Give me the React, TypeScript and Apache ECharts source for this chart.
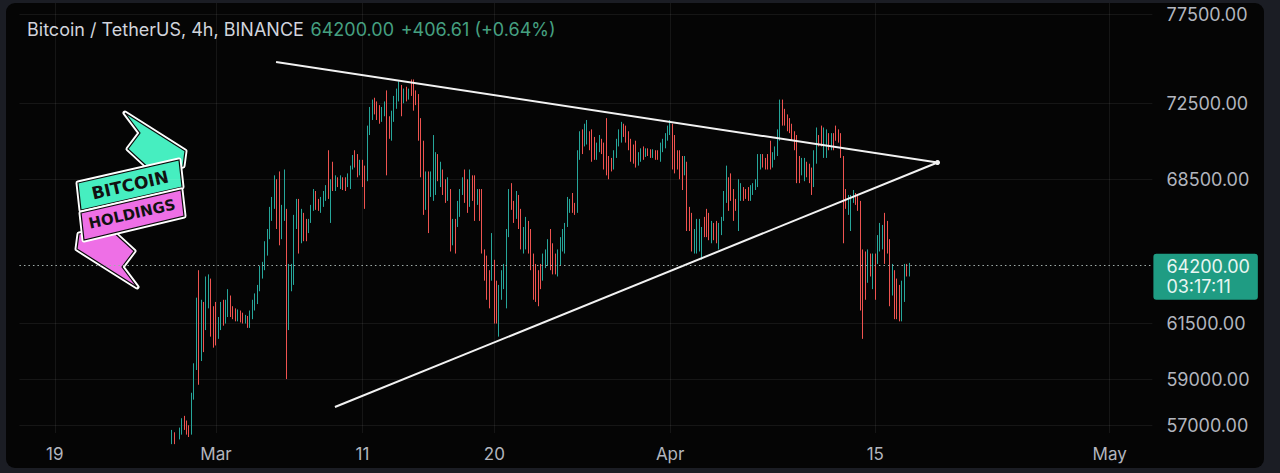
import React, { useEffect, useRef } from "react";
import * as echarts from "echarts";

// ---- header / instrument info ----
const SYMBOL_TITLE = "Bitcoin / TetherUS, 4h, BINANCE";
const LAST_PRICE = 64200;
const PRICE_CHANGE = 406.61;
const PRICE_CHANGE_PCT = 0.64;
const BAR_COUNTDOWN = "03:17:11";

// ---- axes ----
const PRICE_TICKS = [57000, 59000, 61500, 68500, 72500, 77500];
const PRICE_MIN = 56670;
const PRICE_MAX = 78140;
const DATE_TICKS = ["2024-02-19", "2024-03-01", "2024-03-11", "2024-03-20", "2024-04-01", "2024-04-15", "2024-05-01"];
const MONTHS = ["Jan", "Feb", "Mar", "Apr", "May", "Jun", "Jul", "Aug", "Sep", "Oct", "Nov", "Dec"];
const AXIS_START = Date.UTC(2024, 1, 16, 16); // first 4h slot on the time scale
const SLOT_COUNT = 464;
const BAR_MS = 4 * 3600 * 1000;
const FIRST_BAR = Date.UTC(2024, 1, 27, 0);

// ---- 4h candles, [open, close, low, high] ----
const CANDLES: number[][] = [
  [56300, 56650, 56200, 56800], [56650, 56400, 56200, 56700], [56400, 56550, 56200, 56650], [56550, 56700, 56400, 56900],
  [56700, 57150, 56600, 57300], [57150, 56950, 56800, 57400], [56950, 56750, 56600, 57200], [56750, 56700, 56500, 57000],
  [56700, 58200, 56600, 58400], [58200, 59500, 58100, 59700], [59500, 62400, 59400, 62700], [62400, 60300, 58750, 64000],
  [60300, 61900, 59800, 62600], [61900, 61200, 60200, 62500], [61200, 63300, 61200, 63700], [63300, 63500, 62200, 63800],
  [63500, 61600, 60900, 63600], [61600, 60700, 60400, 62300], [61300, 60800, 60500, 62500], [60800, 61500, 60800, 61800],
  [61500, 61900, 61200, 62500], [61900, 61600, 61400, 62600], [61600, 62400, 61500, 62600], [61900, 62700, 61800, 63100],
  [62700, 62000, 61800, 62800], [62000, 61900, 61700, 62300], [61950, 61750, 61600, 62200], [61750, 61900, 61600, 62150],
  [61900, 61700, 61550, 62100], [61700, 61550, 61500, 62000], [61550, 61700, 61500, 61900], [61700, 61400, 61300, 61850],
  [61400, 61900, 61300, 62100], [61900, 62400, 61700, 62600], [62400, 62800, 62100, 62900], [62800, 63100, 62400, 63300],
  [63100, 64000, 63000, 64200], [64000, 64300, 63600, 64400], [64300, 65200, 64000, 65400], [65200, 65900, 64700, 66000],
  [65900, 66900, 65500, 67100], [66900, 67400, 66400, 67600], [67400, 68500, 67000, 68700], [68500, 67000, 66000, 68500],
  [68200, 65800, 65200, 68900], [65800, 66700, 65500, 67200], [66700, 68600, 66400, 69000], [66900, 62700, 59000, 67000],
  [62700, 63500, 61200, 64300], [63500, 64200, 63000, 64300], [63500, 66400, 63300, 66700], [66400, 66900, 66000, 67500],
  [67300, 65500, 64800, 67500], [65500, 66500, 65300, 67000], [66600, 65700, 65400, 66800], [66200, 65600, 65400, 66500],
  [65800, 66300, 65800, 66500], [66300, 67000, 66300, 67200], [67000, 67800, 66900, 68000], [67800, 67500, 66950, 67900],
  [67400, 67000, 66900, 67500], [67000, 67400, 66800, 67600], [67400, 67700, 67100, 67900], [67700, 68000, 67400, 68200],
  [68900, 67800, 67500, 70000], [67800, 68300, 66300, 68500], [69200, 68200, 67900, 69400], [68200, 68600, 67900, 68700],
  [68500, 68300, 68100, 68600], [68300, 68600, 68000, 68700], [68600, 68400, 67950, 68600], [68500, 68200, 67900, 68600],
  [68200, 68500, 68100, 68800], [68400, 69000, 68000, 69200], [69000, 69600, 69000, 69750], [69600, 69300, 69100, 70000],
  [69300, 68700, 68600, 69800], [68700, 69300, 68700, 69500], [69300, 68400, 68100, 69500], [68900, 68300, 67000, 69200],
  [68400, 71000, 68400, 71300], [71000, 72100, 70800, 72300], [72000, 72500, 71600, 72700], [72500, 72300, 71900, 72800],
  [72300, 71800, 71600, 72600], [72000, 71500, 71400, 72400], [71600, 72000, 71500, 72300], [71900, 72400, 71800, 72600],
  [72700, 71300, 68700, 73200], [71300, 70900, 70600, 71800], [70900, 71900, 70500, 72100], [71900, 72600, 71500, 72900],
  [72600, 73000, 72200, 73300], [72900, 73500, 72600, 73700], [73500, 72500, 71800, 73500], [72500, 73000, 72500, 73300],
  [73000, 72800, 72600, 73400], [72800, 73100, 72700, 73300], [73500, 73000, 72900, 73800], [73700, 72300, 72100, 73800],
  [73000, 72500, 72400, 73200], [72800, 71000, 70500, 73000], [71300, 69000, 68600, 71700], [69000, 67200, 66700, 70500],
  [67200, 68200, 66950, 68900], [68200, 66300, 65800, 68900], [67800, 68500, 67600, 68900], [67500, 70300, 67400, 70800],
  [68000, 69600, 67700, 69900], [69600, 68600, 68400, 69800], [68600, 69200, 68100, 69400], [69000, 68200, 67700, 69000],
  [68400, 67600, 67300, 68500], [67600, 68300, 67400, 68600], [68000, 65700, 64900, 68000], [65700, 66200, 65200, 66500],
  [66300, 65900, 64800, 66500], [66200, 67100, 66100, 67400], [67000, 67700, 66600, 68000], [67800, 68400, 67700, 68600],
  [68900, 67500, 67300, 69000], [68000, 67000, 66800, 68500], [67200, 68600, 67100, 69000], [68600, 68000, 67400, 68700],
  [68400, 66800, 66400, 68700], [67200, 67700, 67200, 68000], [67700, 66900, 66400, 68000], [67200, 65200, 64800, 68000],
  [65000, 63800, 63500, 65000], [63800, 63200, 62600, 64700], [63700, 62600, 62200, 64000], [63600, 65500, 63500, 65800],
  [64400, 61900, 61500, 64500], [63300, 62000, 61500, 63500], [61800, 62900, 60900, 63300], [62900, 63600, 62600, 64000],
  [63600, 64100, 63100, 64300], [62500, 65800, 62200, 66000], [65800, 67800, 65600, 68000], [68200, 67200, 66950, 68300],
  [67200, 66600, 66300, 67400], [66600, 67600, 66500, 67900], [67600, 66300, 66000, 67700], [66300, 65700, 65000, 67000],
  [65000, 65900, 64800, 66100], [65600, 66400, 65000, 66600], [66300, 65700, 64800, 66400], [65800, 64500, 64000, 66000],
  [64500, 63000, 62600, 64800], [63600, 62900, 62500, 64300], [63500, 62500, 62300, 64000], [63800, 63200, 63100, 64300],
  [63600, 64400, 63500, 64800], [64200, 64700, 64100, 65000], [64300, 65200, 64200, 65500], [65600, 64300, 64000, 66000],
  [65000, 64000, 63800, 65300], [64500, 64000, 63800, 64800], [64000, 64600, 63700, 65000], [64300, 65200, 64200, 65600],
  [65200, 65700, 64900, 66000], [65000, 66200, 64800, 66300], [66200, 67300, 66100, 67600], [67000, 67400, 66800, 67500],
  [67700, 67000, 66800, 67800], [67200, 66800, 66700, 67300], [66800, 69800, 66800, 70000], [69800, 70700, 69500, 71000],
  [70900, 70200, 69800, 71100], [70300, 71000, 70200, 71400], [70500, 71300, 70300, 71600], [71000, 70600, 70000, 71000],
  [71000, 69700, 69400, 71100], [70300, 69700, 69500, 70700], [69600, 70200, 69500, 70400], [70200, 70500, 69900, 70800],
  [70500, 70000, 69800, 70600], [70300, 69300, 69000, 70400], [70400, 69000, 68700, 71700], [69600, 68800, 68500, 69700],
  [69500, 68900, 68900, 69600], [69100, 69800, 69000, 70000], [69800, 70400, 69600, 70600], [70400, 70900, 70200, 71100],
  [70700, 71300, 70400, 71500], [71300, 71000, 70700, 71400], [71200, 70600, 70400, 71300], [70800, 70200, 70000, 71000],
  [70400, 69600, 69400, 70600], [69700, 69400, 69300, 70300], [70000, 69200, 69100, 70500], [69300, 69800, 69200, 69900],
  [69600, 70000, 69400, 70100], [70000, 69700, 69500, 70200], [69700, 70000, 69650, 70100], [70000, 69800, 69700, 70100],
  [70000, 69700, 69600, 70050], [69700, 69900, 69600, 70050], [69900, 69600, 69500, 70000], [69800, 69500, 69500, 70000],
  [69500, 70100, 69400, 70400], [70100, 70400, 69900, 70600], [70400, 70800, 70100, 70900], [70800, 71200, 70500, 71300],
  [71000, 71500, 70800, 71600], [71300, 69500, 69000, 71400], [70200, 69000, 68800, 70800], [69600, 69100, 69000, 70000],
  [69100, 68700, 68500, 70000], [69000, 68500, 67950, 69700], [68700, 69400, 68700, 69700], [69200, 66500, 65900, 69400],
  [66800, 66100, 65900, 67100], [66300, 65200, 64900, 66800], [65200, 65600, 64800, 66000], [65500, 65900, 64800, 66500],
  [65600, 66300, 64900, 66500], [65300, 65900, 64500, 66100], [66400, 65600, 65600, 66600], [66900, 65800, 65600, 67000],
  [66600, 65600, 65450, 66800], [65600, 66000, 65300, 66400], [66000, 65700, 65450, 66300], [66100, 65500, 65300, 66400],
  [65300, 66000, 65000, 66300], [65800, 66400, 65700, 66600], [66400, 67700, 66400, 67900], [67500, 68700, 67300, 69200],
  [68500, 67300, 66900, 68600], [68400, 67700, 67400, 68800], [68000, 66800, 66400, 68000], [67400, 67000, 66900, 67500],
  [66500, 68000, 65900, 68500], [67600, 68100, 67400, 68300], [68000, 67700, 67400, 68100], [68000, 67600, 67500, 68000],
  [67900, 67600, 67400, 68100], [67500, 68000, 67400, 68200], [67800, 68200, 67700, 68300], [68100, 68400, 67950, 68500],
  [68200, 69600, 68100, 69800], [69300, 69700, 69000, 69800], [69700, 69300, 69100, 69800], [69500, 69200, 69000, 69600],
  [69600, 69200, 69000, 69800], [70300, 69100, 69000, 70500], [69200, 69800, 69100, 69900], [69700, 70100, 69500, 70200],
  [70000, 71000, 69700, 71100], [70900, 72300, 70500, 72700], [72400, 71500, 71300, 72700], [72000, 71400, 71300, 72200],
  [71800, 71200, 71000, 71900], [71500, 71000, 70900, 71700], [71300, 70600, 70500, 71400], [70900, 70100, 70000, 71000],
  [70700, 69000, 68300, 70800], [69400, 68800, 68300, 69700], [69000, 69400, 68700, 69600], [68700, 69400, 68400, 69600],
  [69400, 68900, 68600, 69400], [69200, 68700, 68300, 69300], [69000, 67900, 67700, 69100], [68200, 69600, 68100, 70000],
  [69500, 70700, 69300, 71200], [70700, 70300, 70200, 70800], [71000, 70300, 70200, 71300], [70300, 70800, 69600, 71200],
  [70200, 70900, 69600, 71100], [70800, 70400, 70000, 70900], [70200, 70800, 70000, 70900], [70700, 70400, 70000, 70900],
  [71200, 70800, 70500, 71300], [71000, 70600, 70400, 71100], [70800, 69700, 69600, 70900], [69700, 66000, 65300, 69700],
  [67900, 67200, 67000, 68000], [67200, 67600, 66700, 67700], [66800, 67500, 65900, 67700], [67500, 67800, 67300, 67950],
  [67800, 67400, 67200, 67800], [67500, 67000, 66900, 67700], [67300, 63000, 62100, 67400], [64300, 62500, 60800, 65000],
  [64500, 63000, 62600, 64900], [63500, 64400, 63400, 65000], [64400, 64000, 63700, 64800], [64000, 64500, 63100, 64800],
  [64600, 63300, 62600, 64800], [64300, 65500, 64300, 65700], [65000, 66100, 64900, 66300], [65400, 66100, 65000, 66200],
  [66700, 64700, 64300, 66800], [66200, 65100, 64800, 66400], [65300, 63100, 62300, 65500], [63500, 64000, 62800, 64300],
  [63700, 62600, 61700, 64000], [63100, 62000, 61700, 63600], [63000, 62000, 61600, 63300], [61800, 63000, 61600, 63500],
  [62700, 64000, 62500, 64300], [64000, 63793.39, 63700, 64300], [63793.39, 64200, 63700, 64350],
];

// ---- drawn trend lines (time, price) ----
const UPPER_TREND: [number, number][] = [
  [Date.UTC(2024, 2, 5, 2, 24), 74770],
  [Date.UTC(2024, 3, 19, 6), 69360],
];
const LOWER_TREND: [number, number][] = [
  [Date.UTC(2024, 2, 9, 2, 48), 57780],
  [Date.UTC(2024, 3, 19, 6), 69360],
];

// ---- colours ----
const UP = "#26a69a";
const DOWN = "#ef5350";
const TEXT = "#d1d4dc";
const AXIS_TEXT = "#b2b5be";
const GREEN_TEXT = "#45a081";
const GRID = "rgba(255,255,255,0.07)";
const PANEL_BG = "#050505";
const OUTER_BG = "#1b1d24";
const LOGO_TEAL = "#46eec0";
const LOGO_PINK = "#ee6fe6";
const FONT = "Inter, Roboto, sans-serif";

// ---- ribbon badge ----
const TOP_FLAG = [[125, 113], [185, 151], [183, 166], [152, 171], [128, 149], [140, 133]];
const BOTTOM_FLAG = [[137, 287], [77, 249], [79, 234], [110, 229], [134, 251], [122, 267]];
const TEAL_BAND = [[78, 183], [179, 160], [182, 187], [81, 210]];
const PINK_BAND = [[81, 213], [181, 190], [184, 216], [84, 240]];

function pad(n: number) {
  return n < 10 ? "0" + n : String(n);
}

function slotLabel(t: number) {
  const d = new Date(t);
  return `${d.getUTCFullYear()}-${pad(d.getUTCMonth() + 1)}-${pad(d.getUTCDate())} ${pad(d.getUTCHours())}:00`;
}

function buildOption() {
  const categories = Array.from({ length: SLOT_COUNT }, (_, i) => slotLabel(AXIS_START + i * BAR_MS));
  const firstSlot = Math.round((FIRST_BAR - AXIS_START) / BAR_MS);
  const candleData = categories.map((_, i) => {
    const r = CANDLES[i - firstSlot];
    if (!r) return "-";
    const [o, c, l, h] = r;
    return [Math.log(o), Math.log(c), Math.log(Math.min(l, o, c)), Math.log(Math.max(h, o, c))];
  });
  const tickSet = new Set(DATE_TICKS.map((d) => d + " 00:00"));
  const isTick = (_: number, v: string) => tickSet.has(v);
  const dateText = (v: string) => {
    const month = Number(v.slice(5, 7));
    const day = Number(v.slice(8, 10));
    return day === 1 ? MONTHS[month - 1] : String(day);
  };

  const slotW = 2.4417;
  const gridLeft = 19.44;
  const gridW = SLOT_COUNT * slotW;

  const logoChildren: any[] = [];
  [
    { pts: TOP_FLAG, fill: LOGO_TEAL },
    { pts: BOTTOM_FLAG, fill: LOGO_PINK },
    { pts: TEAL_BAND, fill: LOGO_TEAL },
    { pts: PINK_BAND, fill: LOGO_PINK },
  ].forEach((s) => {
    logoChildren.push({
      type: "polygon",
      shape: { points: s.pts },
      style: { fill: "#ffffff", stroke: "#ffffff", lineWidth: 5, lineJoin: "round" },
    });
    logoChildren.push({
      type: "polygon",
      shape: { points: s.pts },
      style: { fill: s.fill, stroke: "#0a0a0a", lineWidth: 1.2 },
    });
  });
  logoChildren.push({
    type: "text",
    x: 130,
    y: 185,
    rotation: 0.224,
    style: { text: "BITCOIN", fill: "#111", font: "bold 17px 'DejaVu Sans'", align: "center", verticalAlign: "middle" },
  });
  logoChildren.push({
    type: "text",
    x: 132,
    y: 214,
    rotation: 0.224,
    style: { text: "HOLDINGS", fill: "#111", font: "bold 15px 'DejaVu Sans'", align: "center", verticalAlign: "middle" },
  });

  const sign = PRICE_CHANGE >= 0 ? "+" : "";
  const header = `{a|${SYMBOL_TITLE}}  {b|${LAST_PRICE.toFixed(2)}}  {b|${sign}${PRICE_CHANGE.toFixed(2)} (${sign}${PRICE_CHANGE_PCT.toFixed(2)}%)}`;

  return {
    animation: false,
    backgroundColor: "transparent",
    grid: { left: gridLeft, top: 3, width: gridW, bottom: 40, containLabel: false },
    xAxis: [
      {
        type: "category",
        data: categories,
        boundaryGap: true,
        axisLine: { show: false },
        axisTick: { show: false },
        axisLabel: {
          interval: isTick,
          formatter: dateText,
          color: AXIS_TEXT,
          fontSize: 17,
          fontFamily: FONT,
          margin: 12,
        },
        splitLine: {
          show: true,
          interval: isTick,
          alignWithLabel: true,
          lineStyle: { color: GRID, width: 1 },
        },
      },
      {
        type: "time",
        show: false,
        min: AXIS_START - BAR_MS / 2,
        max: AXIS_START + SLOT_COUNT * BAR_MS - BAR_MS / 2,
      },
    ],
    yAxis: {
      type: "value",
      position: "right",
      min: Math.log(PRICE_MIN),
      max: Math.log(PRICE_MAX),
      axisLine: { show: false },
      axisTick: { show: false, customValues: PRICE_TICKS.map(Math.log) },
      axisLabel: {
        customValues: PRICE_TICKS.map(Math.log),
        formatter: (v: number) => Math.exp(v).toFixed(2),
        color: AXIS_TEXT,
        fontSize: 18,
        fontFamily: FONT,
        margin: 14,
      },
      splitLine: { show: true, lineStyle: { color: GRID, width: 1 } },
    },
    graphic: [
      {
        type: "text",
        left: 27,
        top: 20,
        style: {
          text: header,
          rich: {
            a: { fill: TEXT, fontSize: 18, fontFamily: FONT },
            b: { fill: GREEN_TEXT, fontSize: 18, fontFamily: FONT },
          },
        },
      },
      { type: "group", children: logoChildren },
    ],
    series: [
      {
        type: "candlestick",
        clip: true,
        barWidth: 1.2,
        data: candleData,
        itemStyle: { color: UP, color0: DOWN, borderColor: UP, borderColor0: DOWN, borderWidth: 1 },
        markLine: {
          silent: true,
          symbol: "none",
          data: [{ yAxis: Math.log(LAST_PRICE) }],
          lineStyle: { type: [1.5, 3], color: "#a2aeab", width: 1 },
          label: {
            position: "end",
            distance: 1,
            offset: [0, 11],
            formatter: () => `${LAST_PRICE.toFixed(2)}\n${BAR_COUNTDOWN}`,
            backgroundColor: "#1f9c83",
            color: "#e9f6f2",
            fontSize: 18,
            fontFamily: FONT,
            lineHeight: 20.5,
            padding: [3, 8, 2, 13],
            borderRadius: 3,
            align: "left",
          },
        },
      },
      {
        type: "line",
        xAxisIndex: 1,
        data: UPPER_TREND.map(([t, p]) => [t, Math.log(p)]),
        symbol: "none",
        silent: true,
        lineStyle: { color: "#f2f2f2", width: 2 },
      },
      {
        type: "line",
        xAxisIndex: 1,
        data: LOWER_TREND.map(([t, p], i) =>
          i === 1 ? { value: [t, Math.log(p)], symbol: "circle", symbolSize: 5 } : [t, Math.log(p)]
        ),
        symbol: "none",
        silent: true,
        itemStyle: { color: "#f2f2f2" },
        lineStyle: { color: "#f2f2f2", width: 2 },
      },
    ],
  };
}

export default function App() {
  const ref = useRef<HTMLDivElement>(null);
  useEffect(() => {
    if (!ref.current) return;
    const chart = echarts.init(ref.current, null, { renderer: "svg" });
    chart.setOption(buildOption() as any);
    return () => chart.dispose();
  }, []);
  return (
    <div style={{ position: "fixed", left: 0, top: 0, width: 1280, height: 473, background: OUTER_BG, overflow: "hidden" }}>
      <div style={{ position: "absolute", left: 6, top: 3, width: 1258, height: 465, borderRadius: 9, background: PANEL_BG }} />
      <div ref={ref} style={{ position: "absolute", left: 0, top: 0, width: 1280, height: 473 }} />
    </div>
  );
}
